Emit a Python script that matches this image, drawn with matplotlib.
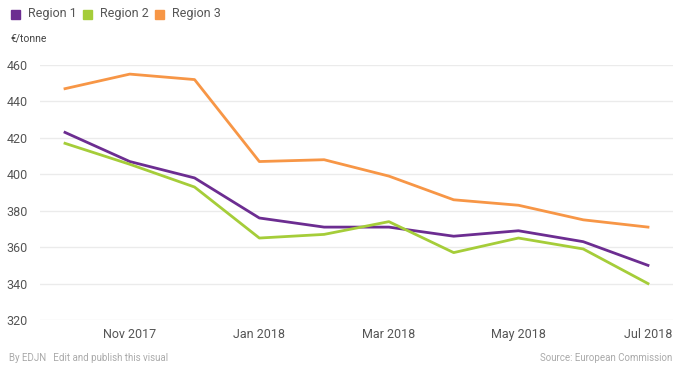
import matplotlib
matplotlib.use("Agg")
import matplotlib.pyplot as plt
from matplotlib.patches import Rectangle

months = ["Oct 2017", "Nov 2017", "Dec 2017", "Jan 2018", "Feb 2018",
          "Mar 2018", "Apr 2018", "May 2018", "Jun 2018", "Jul 2018"]
region1 = [423, 407, 398, 376, 371, 371, 366, 369, 363, 350]
region2 = [417, 405.5, 393, 365, 367, 374, 357, 365, 359, 340]
region3 = [447, 455, 452, 407, 408, 399, 386, 383, 375, 371]
series_names = ["Region 1", "Region 2", "Region 3"]
colors = ["#6c2d91", "#a5cd39", "#f79646"]
yticks = [320, 340, 360, 380, 400, 420, 440, 460]
xtick_idx = [1, 3, 5, 7, 9]

plt.rcParams['font.family'] = ['Roboto', 'DejaVu Sans']

W, H = 680, 377
fig = plt.figure(figsize=(W / 100, H / 100), dpi=100)
ax = fig.add_axes([40 / W, 1 - 320 / H, (673 - 40) / W, (320 - 65) / H])

x = list(range(len(months)))
for vals, c in zip([region1, region2, region3], colors):
    ax.plot(x, vals, color=c, lw=2.0, clip_on=False, solid_joinstyle='round')

ax.set_ylim(320, 460)
ax.set_xlim(-0.386, 9.386)
ax.set_yticks(yticks)
ax.set_yticklabels([str(v) for v in yticks])
ax.set_xticks(xtick_idx)
ax.set_xticklabels([months[i] for i in xtick_idx])
ax.grid(axis='y', color='#ebebeb', lw=1)
ax.set_axisbelow(True)
for s in ax.spines.values():
    s.set_visible(False)
ax.tick_params(axis='both', length=0, labelsize=9, colors='#555555')
ax.tick_params(axis='y', pad=9)
ax.tick_params(axis='x', pad=6)
for lbl in ax.get_yticklabels():
    lbl.set_horizontalalignment('right')

# legend
lx = [11, 83, 155]
for name, c, xx in zip(series_names, colors, lx):
    fig.patches.append(Rectangle((xx / W, 1 - 18.5 / H), 8.5 / W, 8.5 / H,
                                 transform=fig.transFigure, color=c))
    fig.text((xx + 17) / W, 1 - 14 / H, name, fontsize=9, color='#555555',
             va='center', ha='left')

fig.text(11 / W, 1 - 38 / H, "€/tonne", fontsize=7.5, color='#444444',
         va='center', ha='left')

fig.text(9 / W, 1 - 358 / H, "By EDJN   Edit and publish this visual",
         fontsize=7, color='#aaaaaa', va='center', ha='left')
fig.text(672 / W, 1 - 358 / H, "Source: European Commission",
         fontsize=7, color='#aaaaaa', va='center', ha='right')

fig.savefig("out.png", dpi=100)
